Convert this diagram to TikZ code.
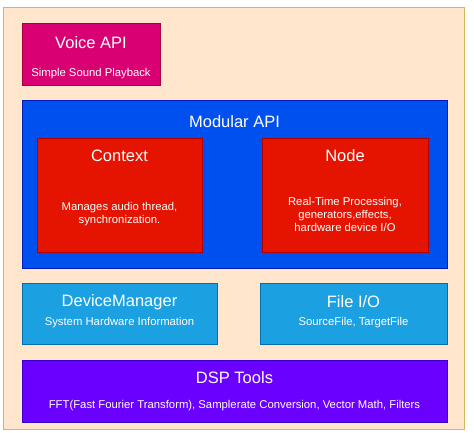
\documentclass[tikz,border=0pt]{standalone}
\usepackage{fontspec}
\setmainfont{Liberation Sans}
\definecolor{outerfill}{HTML}{FFE6CC}
\definecolor{outerdraw}{HTML}{D6B656}
\definecolor{voicefill}{HTML}{D80073}
\definecolor{voicedraw}{HTML}{A50040}
\definecolor{modfill}{HTML}{0050EF}
\definecolor{moddraw}{HTML}{001DBC}
\definecolor{redfill}{HTML}{E51400}
\definecolor{reddraw}{HTML}{B20000}
\definecolor{cyanfill}{HTML}{1BA1E2}
\definecolor{cyandraw}{HTML}{006EAF}
\definecolor{dspfill}{HTML}{6A00FF}
\definecolor{dspdraw}{HTML}{3700CC}
\tikzset{
  box/.style={rectangle, inner sep=0pt, outer sep=0pt, anchor=north west, line width=1pt},
  ttl/.style={text=white, inner sep=0pt, font=\fontsize{16.5}{19}\selectfont},
  sub/.style={text=white, inner sep=0pt, align=center, font=\fontsize{11.3}{13}\selectfont},
}
\begin{document}
\begin{tikzpicture}[x=1pt,y=-1pt]
\useasboundingbox (0,0) rectangle (474,433);
\node[box, fill=outerfill, draw=outerdraw, minimum width=461pt, minimum height=422pt] (outer) at (3.5,7.5) {};
% Voice API
\node[box, fill=voicefill, draw=voicedraw, minimum width=138pt, minimum height=62pt] (voice) at (22,24) {};
\node[ttl] (voicet) at (91,43) {Voice API};
\node[sub] (voices) at (91,74) {Simple Sound Playback};
% Modular API
\node[box, fill=modfill, draw=moddraw, minimum width=425pt, minimum height=167pt] (mod) at (22,101) {};
\node[ttl] (modt) at (234.5,122) {Modular API};
\node[box, fill=redfill, draw=reddraw, minimum width=165pt, minimum height=113pt] (ctx) at (37,139) {};
\node[ttl] (ctxt) at (119.5,156) {Context};
\node[sub] (ctxs) at (119.5,214.5) {Manages audio thread,\\synchronization.};
\node[box, fill=redfill, draw=reddraw, minimum width=166pt, minimum height=113pt] (nd) at (262,139) {};
\node[ttl] (ndt) at (345,156) {Node};
\node[sub] (nds) at (345,214) {Real-Time Processing,\\generators,effects,\\hardware device I/O};
% Device manager / File I/O
\node[box, fill=cyanfill, draw=cyandraw, minimum width=195pt, minimum height=61pt] (dev) at (22,283) {};
\node[ttl] (devt) at (119.5,302) {DeviceManager};
\node[sub] (devs) at (119.5,323) {System Hardware Information};
\node[box, fill=cyanfill, draw=cyandraw, minimum width=187pt, minimum height=61pt] (fio) at (260,283) {};
\node[ttl] (fiot) at (353.5,302) {File I/O};
\node[sub] (fios) at (353.5,323) {SourceFile, TargetFile};
% DSP
\node[box, fill=dspfill, draw=dspdraw, minimum width=425pt, minimum height=62pt] (dsp) at (22,360) {};
\node[ttl] (dspt) at (234.5,378) {DSP Tools};
\node[sub] (dsps) at (234.5,406) {FFT(Fast Fourier Transform), Samplerate Conversion, Vector Math, Filters};
\end{tikzpicture}
\end{document}
